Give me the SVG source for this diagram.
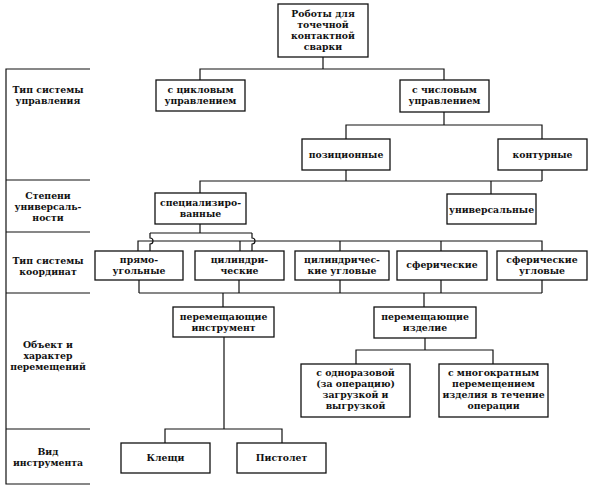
<svg xmlns="http://www.w3.org/2000/svg" width="590" height="490" viewBox="0 0 590 490">
<style>
.b{fill:#fff;stroke:#111;stroke-width:1.3}
.c{fill:none;stroke:#111;stroke-width:1.2}
text{font-family:"DejaVu Serif","Liberation Serif",serif;font-size:9.3px;font-weight:bold;text-anchor:middle;fill:#111}
</style>
<rect width="590" height="490" fill="#fff"/>
<g id="connectors" class="c">
<path d="M323 57V69M200 80V69H444V80"/>
<path d="M444 112V125M346 139V125H542V139"/>
<path d="M346 170V181M542 170V181M200 193V181H542M491 181V194"/>
<path d="M200 224V233M150 233H252"/>
<path d="M150 233V238a3 3 0 0 1 0 6V251M252 233V238a3 3 0 0 1 0 6V251"/>
<path d="M138 251V241H542V251M240 241V251M340 241V251M441 241V251"/>
<path d="M139 280V293M239 280V293M340 280V293M441 280V293M542 280V293M139 293H542M223 293V307M424 293V307"/>
<path d="M224 337V429M165 443V429H282V443"/>
<path d="M425 338V350M356 364V350H493V364"/>
<path d="M90 69H6V484H90M6 180H90M6 232H90M6 293H90M6 429H90"/>
</g>
<g id="labels">
<text x="48" y="93">Тип системы<tspan x="48" dy="11">управления</tspan></text>
<text x="48" y="199">Степени<tspan x="48" dy="11">универсаль-</tspan><tspan x="48" dy="11">ности</tspan></text>
<text x="48" y="264">Тип системы<tspan x="48" dy="10.5">координат</tspan></text>
<text x="48" y="348">Объект и<tspan x="48" dy="11">характер</tspan><tspan x="48" dy="11">перемещений</tspan></text>
<text x="48" y="455">Вид<tspan x="48" dy="11">инструмента</tspan></text>
</g>
<g id="root"><rect class="b" x="278" y="4" width="90" height="53"/><text x="323" y="17">Роботы для<tspan x="323" dy="11">точечной</tspan><tspan x="323" dy="11">контактной</tspan><tspan x="323" dy="11">сварки</tspan></text></g>
<g id="cycl"><rect class="b" x="156" y="80" width="89" height="31"/><text x="200.5" y="93">с цикловым<tspan x="200.5" dy="11">управлением</tspan></text></g>
<g id="num"><rect class="b" x="400" y="80" width="89" height="32"/><text x="444.5" y="93">с числовым<tspan x="444.5" dy="11">управлением</tspan></text></g>
<g id="pos"><rect class="b" x="302" y="139" width="88" height="31"/><text x="346" y="158">позиционные</text></g>
<g id="cont"><rect class="b" x="498" y="139" width="89" height="31"/><text x="542.5" y="158">контурные</text></g>
<g id="spec"><rect class="b" x="155" y="193" width="91" height="31"/><text x="200.5" y="206">специализиро-<tspan x="200.5" dy="11">ванные</tspan></text></g>
<g id="univ"><rect class="b" x="447" y="194" width="89" height="30"/><text x="491.5" y="213">универсальные</text></g>
<g id="rect"><rect class="b" x="95" y="251" width="88" height="29"/><text x="139" y="263">прямо-<tspan x="139" dy="11">угольные</tspan></text></g>
<g id="cyl"><rect class="b" x="195" y="251" width="89" height="29"/><text x="239.5" y="263">цилиндри-<tspan x="239.5" dy="11">ческие</tspan></text></g>
<g id="cylang"><rect class="b" x="295" y="251" width="94" height="29"/><text x="342" y="263">цилиндричес-<tspan x="342" dy="11">кие угловые</tspan></text></g>
<g id="sph"><rect class="b" x="397" y="251" width="90" height="29"/><text x="442" y="268">сферические</text></g>
<g id="sphang"><rect class="b" x="497" y="251" width="90" height="29"/><text x="542" y="263">сферические<tspan x="542" dy="11">угловые</tspan></text></g>
<g id="movtool"><rect class="b" x="173" y="307" width="101" height="30"/><text x="223.5" y="320">перемещающие<tspan x="223.5" dy="11">инструмент</tspan></text></g>
<g id="movpart"><rect class="b" x="374" y="307" width="102" height="31"/><text x="425" y="320">перемещающие<tspan x="425" dy="11">изделие</tspan></text></g>
<g id="single"><rect class="b" x="301" y="364" width="109" height="53"/><text x="355.5" y="376">с одноразовой<tspan x="355.5" dy="11">(за операцию)</tspan><tspan x="355.5" dy="11">загрузкой и</tspan><tspan x="355.5" dy="11">выгрузкой</tspan></text></g>
<g id="multi"><rect class="b" x="439" y="364" width="109" height="53"/><text x="493.5" y="376">с многократным<tspan x="493.5" dy="11">перемещением</tspan><tspan x="493.5" dy="11">изделия в течение</tspan><tspan x="493.5" dy="11">операции</tspan></text></g>
<g id="kl"><rect class="b" x="121" y="443" width="89" height="30"/><text x="165.5" y="461">Клещи</text></g>
<g id="pist"><rect class="b" x="237" y="443" width="89" height="30"/><text x="281.5" y="461">Пистолет</text></g>
</svg>
